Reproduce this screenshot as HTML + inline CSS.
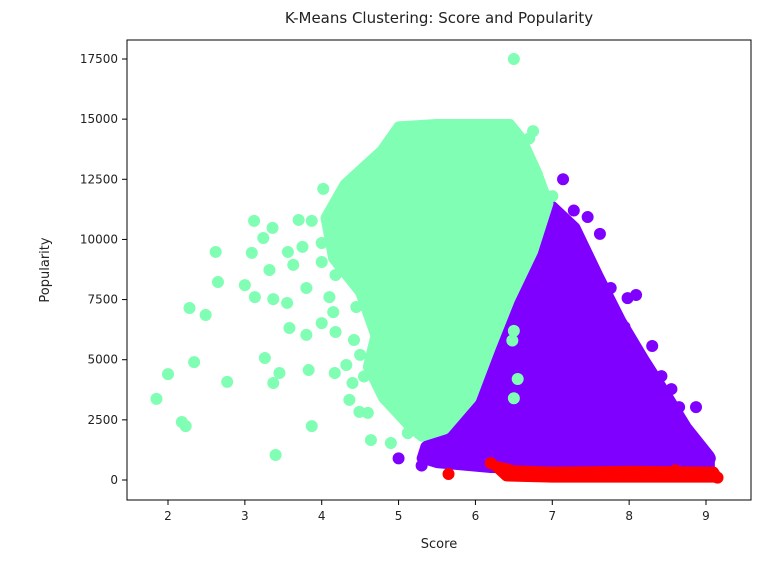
<!DOCTYPE html>
<html><head><meta charset="utf-8"><style>
body{margin:0;background:#fff;}
svg text{font-family:"DejaVu Sans","Liberation Sans",sans-serif;fill:#222;}
</style></head><body>
<svg id="chart" width="772" height="557" xmlns="http://www.w3.org/2000/svg">
<g id="plot"></g>
<rect x="127" y="40" width="624" height="460" fill="none" stroke="#000" stroke-width="1"/>
<g id="axes"></g>
<text x="439" y="23" text-anchor="middle" font-size="15">K-Means Clustering: Score and Popularity</text>
<text x="439" y="548" text-anchor="middle" font-size="13">Score</text>
<text x="49" y="270" text-anchor="middle" font-size="13" transform="rotate(-90 49 270)">Popularity</text>
</svg>
<script>
const xTicks=[2,3,4,5,6,7,8,9];
const yTicks=[0,2500,5000,7500,10000,12500,15000,17500];
const purpleRegion=[[5.3,900],[5.5,700],[6.2,500],[7.0,450],[8.0,450],[9.05,450],[9.05,1000],[8.75,2200],[8.5,3500],[8.2,5000],[7.9,6600],[7.6,8500],[7.3,10500],[7.0,11400],[6.8,10500],[6.5,7500],[6.2,5000],[6.0,3300],[5.6,2000],[5.35,1400]];
const redRegion=[[6.25,600],[6.5,400],[7.0,350],[8.0,380],[9.1,350],[9.15,100],[7.0,100],[6.4,150]];
const greenRegion=[[4.78,13700],[5.0,14700],[5.5,14800],[6.45,14800],[6.6,14200],[6.8,12800],[6.95,11500],[6.75,9500],[6.45,7500],[6.2,5500],[5.95,3400],[5.6,2100],[5.3,1800],[5.15,2200],[4.8,3400],[4.6,4700],[4.7,6000],[4.5,7800],[4.15,9200],[4.05,10900],[4.3,12300]];
const greenPoints=[[3.12,10770],[3.36,10480],[3.7,10810],[3.87,10770],[4.02,12100],[2.62,9480],[3.09,9440],[3.24,10060],[3.56,9480],[3.75,9690],[4.0,9850],[3.32,8730],[3.63,8940],[4.0,9060],[4.18,8520],[2.65,8230],[3.0,8100],[3.13,7600],[3.37,7520],[3.55,7360],[3.8,7980],[4.1,7600],[4.45,7190],[4.15,6980],[2.28,7150],[2.49,6860],[3.58,6320],[3.8,6030],[4.0,6520],[4.18,6150],[4.42,5820],[2.34,4900],[2.0,4400],[1.85,3370],[2.77,4080],[3.26,5070],[3.45,4450],[3.37,4030],[3.83,4570],[4.17,4450],[4.32,4780],[4.4,4030],[4.36,3330],[4.49,2830],[4.6,2790],[2.18,2410],[2.23,2240],[3.87,2240],[3.4,1040],[4.64,1660],[4.9,1540],[5.12,1950],[4.5,5200],[4.55,4300],[6.5,17500],[6.55,4200],[6.5,3400],[6.5,6200],[6.48,5800],[6.7,14200],[6.8,12700],[6.75,14500],[7.0,11800]];
const purplePoints=[[5.0,900],[5.3,600],[7.14,12500],[7.28,11200],[7.46,10930],[7.62,10230],[7.76,7980],[7.98,7560],[8.09,7690],[7.94,6360],[8.3,5570],[8.42,4320],[8.55,3780],[8.65,3030],[8.87,3030],[8.9,1500],[9.05,900]];
const redPoints=[[5.65,250],[6.2,700],[6.4,450],[8.6,400],[9.15,100]];
const NS="http://www.w3.org/2000/svg";
const L=127,R=751,T=40,B=500;
function xs(v){return 168+(v-2)*(706-168)/7;}
function ys(v){return 480-v*(480-59)/17500;}
const plot=document.getElementById('plot'),axes=document.getElementById('axes');
function region(pts,color,name){
  const p=document.createElementNS(NS,'polygon');
  p.setAttribute('points',pts.map(d=>xs(d[0])+','+ys(d[1])).join(' '));
  p.setAttribute('fill',color);p.setAttribute('stroke',color);
  p.setAttribute('stroke-width','10');p.setAttribute('stroke-linejoin','round');
  
  
  plot.appendChild(p);
}
function points(pts,color,name){
  pts.forEach(d=>{
    const c=document.createElementNS(NS,'circle');
    c.setAttribute('cx',xs(d[0]));c.setAttribute('cy',ys(d[1]));c.setAttribute('r','6');
    c.setAttribute('fill',color);
    
    
    plot.appendChild(c);
  });
}
const PU='#8000ff',GR='#80feb3',RD='#ff0000';
region(purpleRegion,PU,'purple-cluster-area');
points(purplePoints,PU,'purple-cluster-point');
region(redRegion,RD,'red-cluster-area');
points(redPoints,RD,'red-cluster-point');
region(greenRegion,GR,'green-cluster-area');
points(greenPoints,GR,'green-cluster-point');
xTicks.forEach(v=>{
  const x=xs(v);
  const l=document.createElementNS(NS,'line');
  l.setAttribute('x1',x);l.setAttribute('x2',x);l.setAttribute('y1',B);l.setAttribute('y2',B+5);l.setAttribute('stroke','#000');
  
  
  axes.appendChild(l);
  const t=document.createElementNS(NS,'text');
  t.setAttribute('x',x);t.setAttribute('y',B+20);t.setAttribute('text-anchor','middle');t.setAttribute('font-size','12');
  t.textContent=v;
  
  
  axes.appendChild(t);
});
yTicks.forEach(v=>{
  const y=ys(v);
  const l=document.createElementNS(NS,'line');
  l.setAttribute('x1',L-5);l.setAttribute('x2',L);l.setAttribute('y1',y);l.setAttribute('y2',y);l.setAttribute('stroke','#000');
  
  
  axes.appendChild(l);
  const t=document.createElementNS(NS,'text');
  t.setAttribute('x',L-9);t.setAttribute('y',y+4);t.setAttribute('text-anchor','end');t.setAttribute('font-size','12');
  t.textContent=v;
  
  
  axes.appendChild(t);
});
</script>
</body></html>
